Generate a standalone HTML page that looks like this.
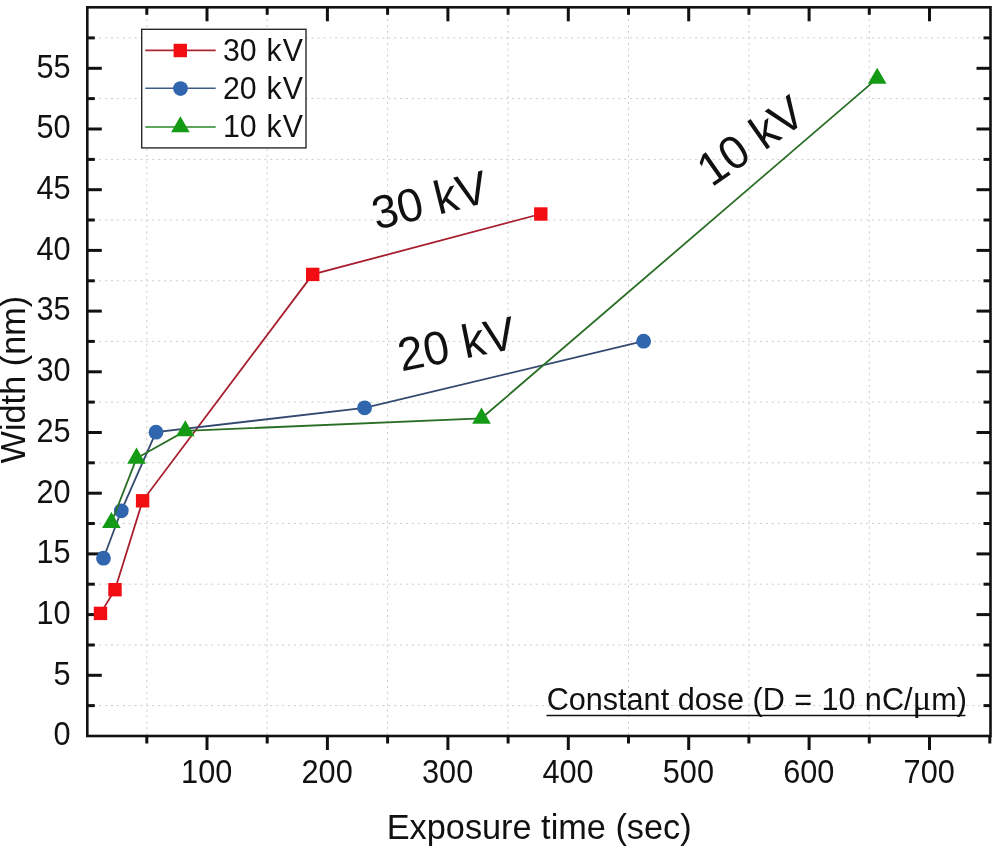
<!DOCTYPE html>
<html lang="en"><head><meta charset="utf-8"><title>Width vs exposure time</title>
<style>html,body{margin:0;padding:0;background:#fff;}svg{display:block;}text{font-family:"Liberation Sans",Arial,Helvetica,sans-serif;fill:#111;}</style></head><body>
<svg width="1000" height="853" viewBox="0 0 1000 853">
<rect width="1000" height="853" fill="#fff"/>
<g stroke="#cecece" stroke-width="1" stroke-dasharray="2.2 3.7" fill="none">
<line x1="146.8" y1="7.3" x2="146.8" y2="736.0"/>
<line x1="267.2" y1="7.3" x2="267.2" y2="736.0"/>
<line x1="387.6" y1="7.3" x2="387.6" y2="736.0"/>
<line x1="508.1" y1="7.3" x2="508.1" y2="736.0"/>
<line x1="628.5" y1="7.3" x2="628.5" y2="736.0"/>
<line x1="748.9" y1="7.3" x2="748.9" y2="736.0"/>
<line x1="869.3" y1="7.3" x2="869.3" y2="736.0"/>
<line x1="87.3" y1="705.6" x2="990.5" y2="705.6"/>
<line x1="87.3" y1="645.0" x2="990.5" y2="645.0"/>
<line x1="87.3" y1="584.2" x2="990.5" y2="584.2"/>
<line x1="87.3" y1="523.5" x2="990.5" y2="523.5"/>
<line x1="87.3" y1="462.8" x2="990.5" y2="462.8"/>
<line x1="87.3" y1="402.1" x2="990.5" y2="402.1"/>
<line x1="87.3" y1="341.4" x2="990.5" y2="341.4"/>
<line x1="87.3" y1="280.8" x2="990.5" y2="280.8"/>
<line x1="87.3" y1="220.0" x2="990.5" y2="220.0"/>
<line x1="87.3" y1="159.4" x2="990.5" y2="159.4"/>
<line x1="87.3" y1="98.6" x2="990.5" y2="98.6"/>
<line x1="87.3" y1="37.9" x2="990.5" y2="37.9"/>
</g>
<g stroke="#111" stroke-width="3" fill="none">
<line x1="87.3" y1="675.3" x2="101.8" y2="675.3"/>
<line x1="990.5" y1="675.3" x2="976.5" y2="675.3"/>
<line x1="87.3" y1="614.6" x2="101.8" y2="614.6"/>
<line x1="990.5" y1="614.6" x2="976.5" y2="614.6"/>
<line x1="87.3" y1="553.9" x2="101.8" y2="553.9"/>
<line x1="990.5" y1="553.9" x2="976.5" y2="553.9"/>
<line x1="87.3" y1="493.2" x2="101.8" y2="493.2"/>
<line x1="990.5" y1="493.2" x2="976.5" y2="493.2"/>
<line x1="87.3" y1="432.5" x2="101.8" y2="432.5"/>
<line x1="990.5" y1="432.5" x2="976.5" y2="432.5"/>
<line x1="87.3" y1="371.8" x2="101.8" y2="371.8"/>
<line x1="990.5" y1="371.8" x2="976.5" y2="371.8"/>
<line x1="87.3" y1="311.1" x2="101.8" y2="311.1"/>
<line x1="990.5" y1="311.1" x2="976.5" y2="311.1"/>
<line x1="87.3" y1="250.4" x2="101.8" y2="250.4"/>
<line x1="990.5" y1="250.4" x2="976.5" y2="250.4"/>
<line x1="87.3" y1="189.7" x2="101.8" y2="189.7"/>
<line x1="990.5" y1="189.7" x2="976.5" y2="189.7"/>
<line x1="87.3" y1="129.0" x2="101.8" y2="129.0"/>
<line x1="990.5" y1="129.0" x2="976.5" y2="129.0"/>
<line x1="87.3" y1="68.3" x2="101.8" y2="68.3"/>
<line x1="990.5" y1="68.3" x2="976.5" y2="68.3"/>
<line x1="87.3" y1="705.6" x2="94.8" y2="705.6"/>
<line x1="990.5" y1="705.6" x2="983.5" y2="705.6"/>
<line x1="87.3" y1="645.0" x2="94.8" y2="645.0"/>
<line x1="990.5" y1="645.0" x2="983.5" y2="645.0"/>
<line x1="87.3" y1="584.2" x2="94.8" y2="584.2"/>
<line x1="990.5" y1="584.2" x2="983.5" y2="584.2"/>
<line x1="87.3" y1="523.5" x2="94.8" y2="523.5"/>
<line x1="990.5" y1="523.5" x2="983.5" y2="523.5"/>
<line x1="87.3" y1="462.8" x2="94.8" y2="462.8"/>
<line x1="990.5" y1="462.8" x2="983.5" y2="462.8"/>
<line x1="87.3" y1="402.1" x2="94.8" y2="402.1"/>
<line x1="990.5" y1="402.1" x2="983.5" y2="402.1"/>
<line x1="87.3" y1="341.4" x2="94.8" y2="341.4"/>
<line x1="990.5" y1="341.4" x2="983.5" y2="341.4"/>
<line x1="87.3" y1="280.8" x2="94.8" y2="280.8"/>
<line x1="990.5" y1="280.8" x2="983.5" y2="280.8"/>
<line x1="87.3" y1="220.0" x2="94.8" y2="220.0"/>
<line x1="990.5" y1="220.0" x2="983.5" y2="220.0"/>
<line x1="87.3" y1="159.4" x2="94.8" y2="159.4"/>
<line x1="990.5" y1="159.4" x2="983.5" y2="159.4"/>
<line x1="87.3" y1="98.6" x2="94.8" y2="98.6"/>
<line x1="990.5" y1="98.6" x2="983.5" y2="98.6"/>
<line x1="87.3" y1="37.9" x2="94.8" y2="37.9"/>
<line x1="990.5" y1="37.9" x2="983.5" y2="37.9"/>
<line x1="207.0" y1="736.0" x2="207.0" y2="750.0"/>
<line x1="207.0" y1="7.3" x2="207.0" y2="21.3"/>
<line x1="327.4" y1="736.0" x2="327.4" y2="750.0"/>
<line x1="327.4" y1="7.3" x2="327.4" y2="21.3"/>
<line x1="447.9" y1="736.0" x2="447.9" y2="750.0"/>
<line x1="447.9" y1="7.3" x2="447.9" y2="21.3"/>
<line x1="568.3" y1="736.0" x2="568.3" y2="750.0"/>
<line x1="568.3" y1="7.3" x2="568.3" y2="21.3"/>
<line x1="688.7" y1="736.0" x2="688.7" y2="750.0"/>
<line x1="688.7" y1="7.3" x2="688.7" y2="21.3"/>
<line x1="809.1" y1="736.0" x2="809.1" y2="750.0"/>
<line x1="809.1" y1="7.3" x2="809.1" y2="21.3"/>
<line x1="929.5" y1="736.0" x2="929.5" y2="750.0"/>
<line x1="929.5" y1="7.3" x2="929.5" y2="21.3"/>
<line x1="146.8" y1="736.0" x2="146.8" y2="743.5"/>
<line x1="146.8" y1="7.3" x2="146.8" y2="14.8"/>
<line x1="267.2" y1="736.0" x2="267.2" y2="743.5"/>
<line x1="267.2" y1="7.3" x2="267.2" y2="14.8"/>
<line x1="387.6" y1="736.0" x2="387.6" y2="743.5"/>
<line x1="387.6" y1="7.3" x2="387.6" y2="14.8"/>
<line x1="508.1" y1="736.0" x2="508.1" y2="743.5"/>
<line x1="508.1" y1="7.3" x2="508.1" y2="14.8"/>
<line x1="628.5" y1="736.0" x2="628.5" y2="743.5"/>
<line x1="628.5" y1="7.3" x2="628.5" y2="14.8"/>
<line x1="748.9" y1="736.0" x2="748.9" y2="743.5"/>
<line x1="748.9" y1="7.3" x2="748.9" y2="14.8"/>
<line x1="869.3" y1="736.0" x2="869.3" y2="743.5"/>
<line x1="869.3" y1="7.3" x2="869.3" y2="14.8"/>
<line x1="989.8" y1="736.0" x2="989.8" y2="743.5"/>
</g>
<rect x="87.3" y="7.3" width="903.2" height="728.7" fill="none" stroke="#111" stroke-width="2.6"/>
<g font-size="30.7" text-anchor="end">
<text transform="translate(70.6,745.3) scale(1,1.09)">0</text>
<text transform="translate(70.6,684.6) scale(1,1.09)">5</text>
<text transform="translate(70.6,623.9) scale(1,1.09)">10</text>
<text transform="translate(70.6,563.2) scale(1,1.09)">15</text>
<text transform="translate(70.6,502.5) scale(1,1.09)">20</text>
<text transform="translate(70.6,441.8) scale(1,1.09)">25</text>
<text transform="translate(70.6,381.1) scale(1,1.09)">30</text>
<text transform="translate(70.6,320.4) scale(1,1.09)">35</text>
<text transform="translate(70.6,259.7) scale(1,1.09)">40</text>
<text transform="translate(70.6,199.0) scale(1,1.09)">45</text>
<text transform="translate(70.6,138.3) scale(1,1.09)">50</text>
<text transform="translate(70.6,77.6) scale(1,1.09)">55</text>
</g>
<g font-size="30.7" text-anchor="middle">
<text transform="translate(206.7,783.4) scale(1,1.09)">100</text>
<text transform="translate(327.1,783.4) scale(1,1.09)">200</text>
<text transform="translate(447.6,783.4) scale(1,1.09)">300</text>
<text transform="translate(568.0,783.4) scale(1,1.09)">400</text>
<text transform="translate(688.4,783.4) scale(1,1.09)">500</text>
<text transform="translate(808.8,783.4) scale(1,1.09)">600</text>
<text transform="translate(929.2,783.4) scale(1,1.09)">700</text>
</g>
<text font-size="34.3" text-anchor="middle" x="539.2" y="838.5">Exposure time (sec)</text>
<text font-size="34.3" text-anchor="middle" transform="translate(25.2,379.6) rotate(-90)">Width (nm)</text>
<polyline points="100.5,613.4 115,589.7 142.6,500.8 312.7,274.4 540.8,214" fill="none" stroke="#a81e2e" stroke-width="1.8"/>
<rect x="93.80" y="606.70" width="13.4" height="13.4" fill="#f20d12"/>
<rect x="108.30" y="583.00" width="13.4" height="13.4" fill="#f20d12"/>
<rect x="135.90" y="494.10" width="13.4" height="13.4" fill="#f20d12"/>
<rect x="306.00" y="267.70" width="13.4" height="13.4" fill="#f20d12"/>
<rect x="534.10" y="207.30" width="13.4" height="13.4" fill="#f20d12"/>
<polyline points="103.5,558.2 121.3,510.8 156,432.2 364.6,407.8 643.6,341.2" fill="none" stroke="#34496f" stroke-width="1.8"/>
<circle cx="103.5" cy="558.2" r="7.4" fill="#2f66ad"/>
<circle cx="121.3" cy="510.8" r="7.4" fill="#2f66ad"/>
<circle cx="156" cy="432.2" r="7.4" fill="#2f66ad"/>
<circle cx="364.6" cy="407.8" r="7.4" fill="#2f66ad"/>
<circle cx="643.6" cy="341.2" r="7.4" fill="#2f66ad"/>
<polyline points="111.4,522.7 136.5,458.3 185.3,430.9 481.5,418.3 877.2,78.4" fill="none" stroke="#2a6e26" stroke-width="1.8"/>
<polygon points="111.40,511.97 120.70,528.07 102.10,528.07" fill="#149a14"/>
<polygon points="136.50,447.57 145.80,463.67 127.20,463.67" fill="#149a14"/>
<polygon points="185.30,420.17 194.60,436.27 176.00,436.27" fill="#149a14"/>
<polygon points="481.50,407.57 490.80,423.67 472.20,423.67" fill="#149a14"/>
<polygon points="877.20,67.67 886.50,83.77 867.90,83.77" fill="#149a14"/>
<rect x="141.7" y="29.3" width="164.3" height="118.6" fill="#fff" stroke="#2a2a2a" stroke-width="1.4"/>
<line x1="145.3" y1="50.4" x2="215.7" y2="50.4" stroke="#ad2636" stroke-width="1.6"/><rect x="173.60" y="43.80" width="13.4" height="13.4" fill="#f20d12"/>
<line x1="145.3" y1="88.2" x2="215.7" y2="88.2" stroke="#3e5a8a" stroke-width="1.6"/><circle cx="180.5" cy="88.6" r="7.4" fill="#2f66ad"/>
<line x1="145.3" y1="127" x2="215.7" y2="127" stroke="#2a862a" stroke-width="1.6"/><polygon points="180.40,116.27 189.70,132.37 171.10,132.37" fill="#149a14"/>
<text font-size="30.3" transform="translate(0,60.5) scale(1,1.03)"><tspan x="222.9">30 </tspan><tspan x="266.6" letter-spacing="1.1">kV</tspan></text>
<text font-size="30.3" transform="translate(0,99.2) scale(1,1.03)"><tspan x="222.9">20 </tspan><tspan x="266.6" letter-spacing="1.1">kV</tspan></text>
<text font-size="30.3" transform="translate(0,136.9) scale(1,1.03)"><tspan x="222.9">10 </tspan><tspan x="266.6" letter-spacing="1.1">kV</tspan></text>
<text font-size="46" transform="translate(376.4,230.1) rotate(-14) scale(1,1.02)">30 kV</text>
<text font-size="46" word-spacing="1" transform="translate(401.6,371.5) rotate(-11.5) scale(1,1.02)">20 kV</text>
<text font-size="46" word-spacing="0.2" transform="translate(711.6,187.7) rotate(-35) scale(1,1.02)">10 kV</text>
<text font-size="30.6" x="546.7" y="709.8">Constant dose <tspan word-spacing="0.9">(D = 10 nC/</tspan><tspan font-family="'Liberation Serif',serif" font-size="35">μ</tspan>m)</text>
<line x1="546.5" y1="715.6" x2="965.4" y2="715.6" stroke="#111" stroke-width="1.5"/>
</svg></body></html>
